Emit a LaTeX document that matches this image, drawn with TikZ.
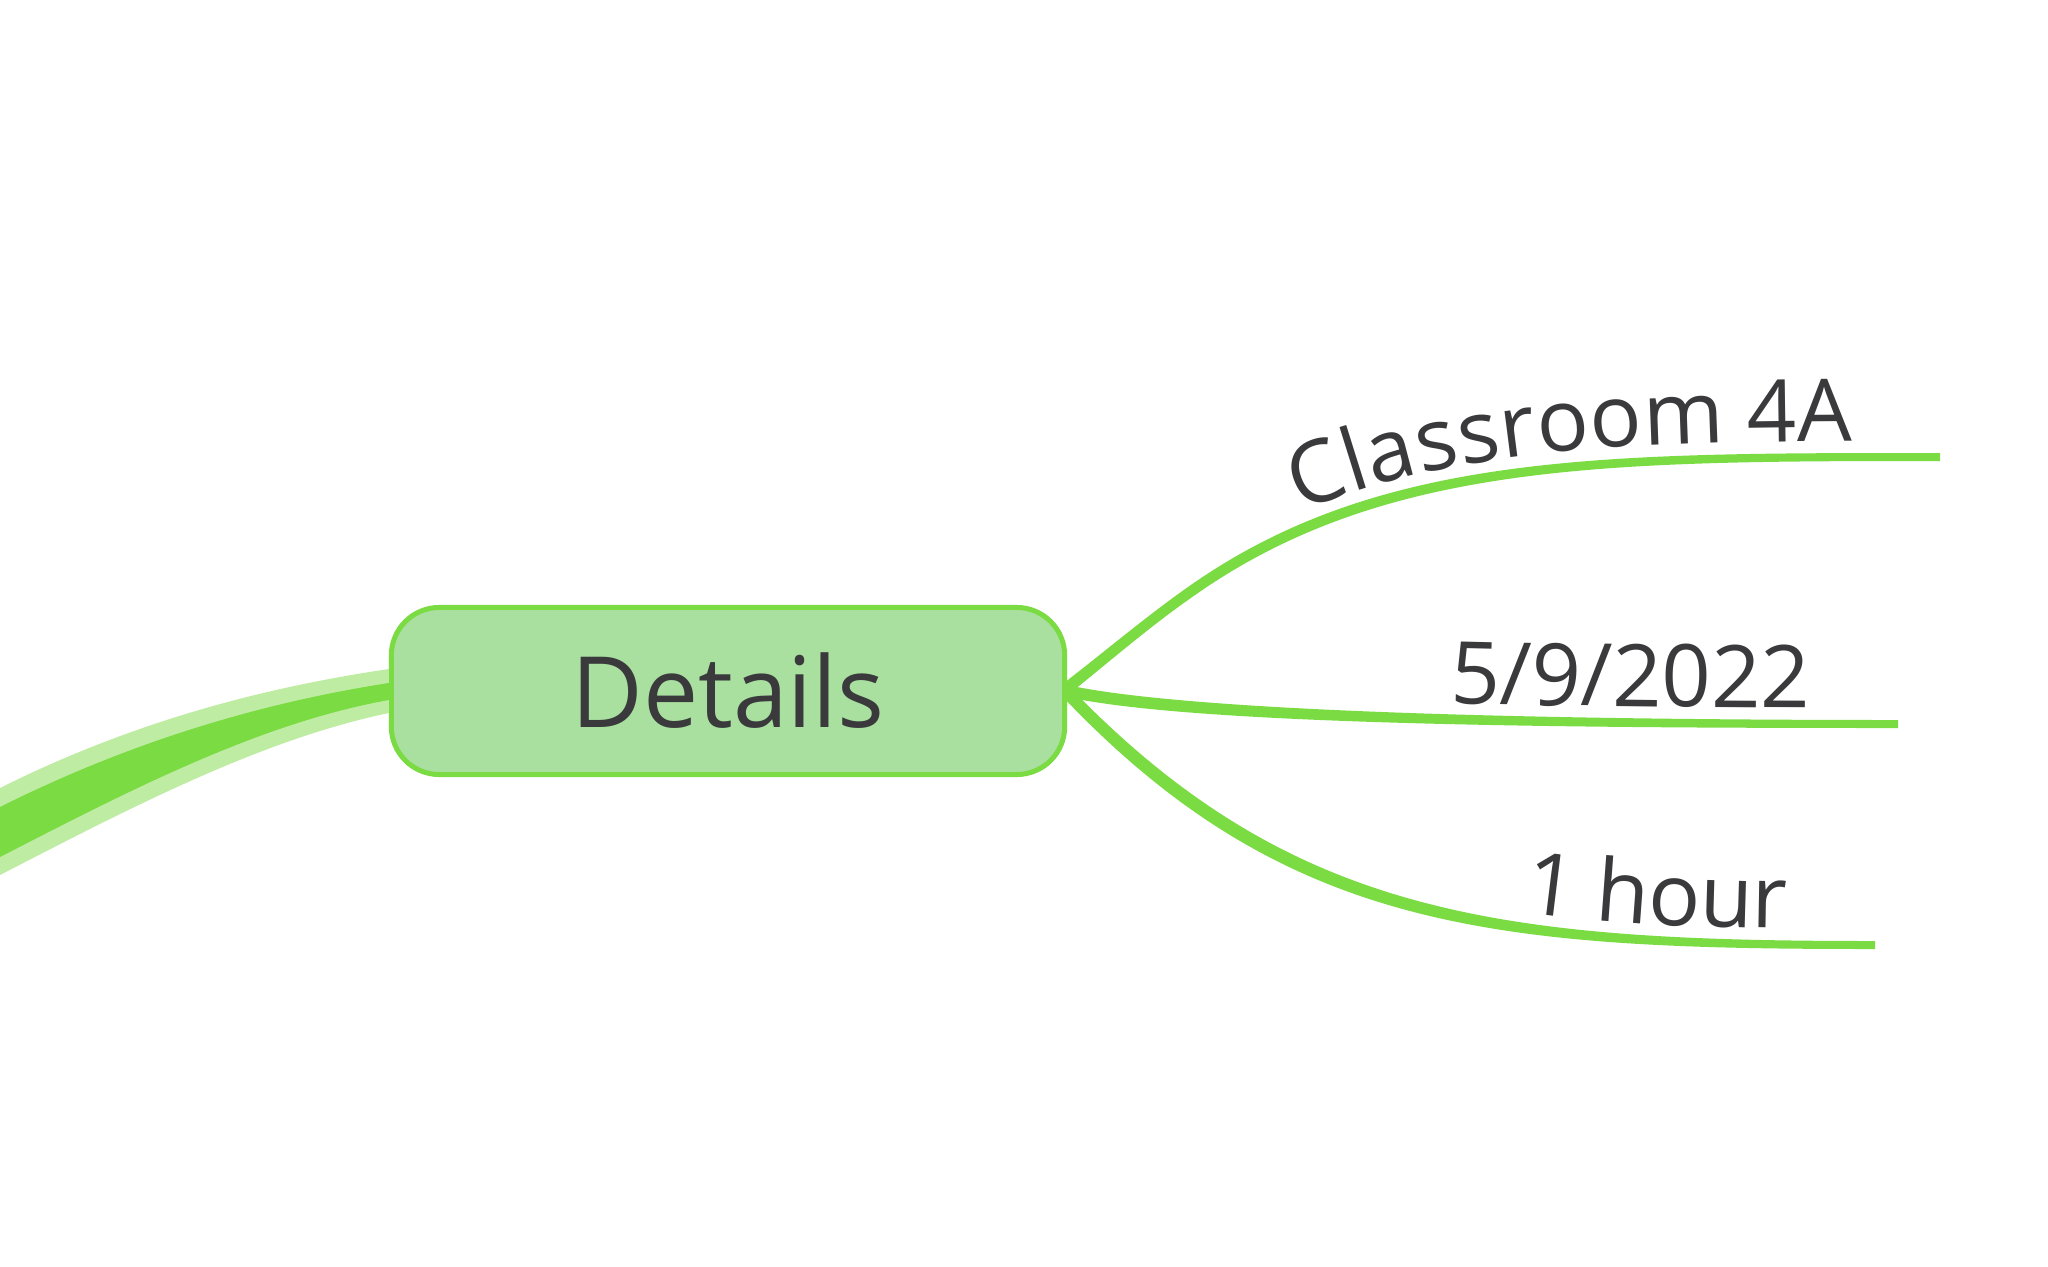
\documentclass[tikz,border=0pt]{standalone}
\usepackage{fontspec}
\setmainfont{Open Sans}
\usetikzlibrary{calc,decorations.text}
\definecolor{branchgreen}{RGB}{123,219,66}
\definecolor{bandlight}{RGB}{191,236,163}
\definecolor{boxfill}{RGB}{169,224,160}
\definecolor{txtgray}{RGB}{58,58,60}
\newcommand\leaffont{\fontsize{24.6}{30}\selectfont\color{txtgray}}
\begin{document}
\begin{tikzpicture}[x=0.01cm,y=-0.01cm,
  topic/.style={draw=branchgreen,fill=boxfill,line width=0.05cm,rounded corners=0.48cm,minimum width=6.73cm,minimum height=1.67cm,text=txtgray,font=\fontsize{28}{34}\selectfont},
  branch/.style={fill=branchgreen},
  leaflabel/.style={decorate,decoration={text along path,text={|\leaffont|#1},text align={right,right indent=0.88cm},raise=0.16cm}}]
\useasboundingbox (0,0) rectangle (2048,1266);
\node[topic] (details) at (728,691) {Details};
\coordinate (root) at (0,841);
\coordinate (roomEnd) at (1940,457);
\coordinate (dateEnd) at (1898,724);
\coordinate (timeEnd) at (1875,945);
\fill[bandlight] ($(root)+(0,-53)$) .. controls (130,723) and (260,688) .. ($(details.west)+(0,-22)$) -- ($(details.west)+(0,22)$) .. controls (260,740) and (130,808) .. ($(root)+(0,34)$) -- cycle;
\fill[branchgreen] ($(root)+(0,-34)$) .. controls (130,742) and (260,703) .. ($(details.west)+(0,-8)$) -- ($(details.west)+(0,9)$) .. controls (260,723) and (130,790) .. ($(root)+(0,16)$) -- cycle;
\fill[branch] ($(details.east)+(0,-10.5)$) .. controls (1109,648) and (1151,612.5) .. (1193,583.5) .. controls (1383,452) and (1606,453) .. ($(roomEnd)+(0,-4)$) -- ($(roomEnd)+(0,4)$) .. controls (1606,461) and (1383,462) .. (1193,596.5) .. controls (1151,625.5) and (1109,662) .. ($(details.east)+(0,4.5)$) -- cycle;
\fill[branch] ($(details.east)+(0,-6)$) .. controls (1200,714) and (1600,720) .. ($(dateEnd)+(0,-4)$) -- ($(dateEnd)+(0,4)$) .. controls (1600,728) and (1200,726) .. ($(details.east)+(0,6)$) -- cycle;
\fill[branch] ($(details.east)+(0,-6.5)$) .. controls (1290,917) and (1500,941) .. ($(timeEnd)+(0,-4)$) -- ($(timeEnd)+(0,4)$) .. controls (1500,949) and (1290,933) .. ($(details.east)+(0,10.5)$) -- cycle;
\path[leaflabel={Classroom 4A}] ($(details.east)+(0,-3)$) .. controls (1109,655) and (1151,619) .. (1193,590) .. controls (1383,457) and (1606,457) .. (roomEnd);
\path[leaflabel={5/9/2022}] (details.east) .. controls (1200,720) and (1600,724) .. (dateEnd);
\path[leaflabel={1 hour}] ($(details.east)+(0,2)$) .. controls (1290,925) and (1500,945) .. (timeEnd);
\end{tikzpicture}
\end{document}
